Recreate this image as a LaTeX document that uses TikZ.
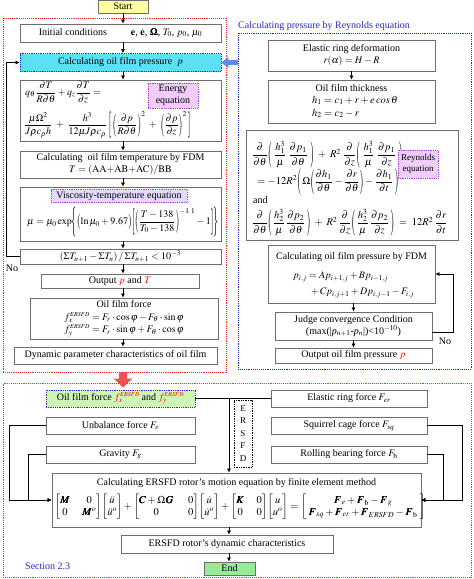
\documentclass[tikz,border=0pt]{standalone}
\usepackage{amsmath}
\usepackage{graphicx}
\usepackage{mathptmx}
\usepackage{bm}
\usepackage[no-math]{fontspec}
\setmainfont{Liberation Serif}
\usetikzlibrary{arrows.meta,calc}
\newcommand{\sdl}[2]{\mathopen{\vcenter{\hbox{\scalebox{1}[#1]{$#2$}}}}}
\newcommand{\sdr}[2]{\mathclose{\vcenter{\hbox{\scalebox{1}[#1]{$#2$}}}}}
\definecolor{boxgray}{RGB}{110,110,110}
\definecolor{cyanfill}{RGB}{90,225,245}
\definecolor{framered}{RGB}{240,40,40}
\definecolor{frameblue}{RGB}{40,40,220}
\definecolor{framegreen}{RGB}{40,160,40}
\definecolor{labelfill}{RGB}{240,205,250}
\definecolor{labelborder}{RGB}{170,60,220}
\definecolor{viscfill}{RGB}{228,218,255}
\definecolor{startfill}{RGB}{255,255,160}
\definecolor{endfill}{RGB}{150,235,150}
\definecolor{oilfill}{RGB}{205,245,180}
\definecolor{bigred}{RGB}{240,80,80}
\definecolor{bigblue}{RGB}{90,140,235}
\definecolor{titleblue}{RGB}{40,40,200}
\tikzset{
  box/.style={draw=boxgray, line width=0.8pt, inner sep=1pt, align=center},
  frame/.style={densely dotted, line width=0.9pt},
  arr/.style={-{Latex[length=4pt,width=4pt]}, line width=0.6pt},
  eqlabel/.style={draw=labelborder, densely dotted, fill=labelfill, line width=0.8pt, align=center, inner sep=0pt},
  txt/.style={inner sep=0pt},
  eq/.style={inner sep=0pt, font=\fontsize{10}{12}\selectfont},
  eqr/.style={inner sep=0pt, font=\fontsize{10.5}{12}\selectfont},
}
\begin{document}
\begin{tikzpicture}[x=1pt,y=-1pt,font=\fontsize{10}{12}\selectfont]
\useasboundingbox (0,0) rectangle (474,579);
% frames
\node[frame, draw=framered, minimum width=223pt, minimum height=354pt] (redf) at (114.5,195) {};
\node[frame, draw=frameblue, minimum width=233pt, minimum height=336pt] (bluef) at (354.5,201) {};
\node[frame, draw=framegreen, minimum width=468pt, minimum height=194pt] (greenf) at (237,480) {};
\node[txt, text=titleblue, anchor=south west] (btitle) at (238,31) {Calculating pressure by Reynolds equation};
\node[txt, text=titleblue, anchor=west] (sec) at (25,566) {Section 2.3};

% left column
\node[box, fill=startfill, minimum width=50pt, minimum height=13pt] (start) at (123,6.5) {Start};
\node[box, minimum width=201pt, minimum height=18pt] (init) at (120.5,33) {Initial conditions\hspace{2.4em}$\mathbf{e}$, $\dot{\mathbf{e}}$, $\bm\Omega$, $T_0$, $p_0$, $\mu_0$};
\node[box, draw=frameblue, densely dotted, fill=cyanfill, minimum width=201pt, minimum height=18pt] (press) at (120.5,62.5) {Calculating oil film pressure\ \ $p$};
\node[box, minimum width=201pt, minimum height=61pt] (energy) at (120.5,110.5) {};
\node[eq, anchor=west] (en1) at (25,92) {$q_\theta\dfrac{\partial T}{R\partial\theta}+q_z\dfrac{\partial T}{\partial z}=$};
\node[eq, anchor=west] (en2) at (24,125) {$\dfrac{\mu\Omega^2}{J\rho c_\rho h}\;+\;\dfrac{h^3}{12\mu J\rho c_\rho}\,\sdl{2.6}{[}\,\sdl{2.3}{(}\dfrac{\partial p}{R\partial\theta}\sdr{2.3}{)}^{2}\;+\;\sdl{2.3}{(}\dfrac{\partial p}{\partial z}\sdr{2.3}{)}^{2}\,\sdr{2.6}{]}$};
\node[eqlabel, minimum width=50pt, minimum height=25pt] (enlab) at (173,95.5) {Energy\\equation};
\node[box, minimum width=201pt, minimum height=27pt] (temp) at (120.5,164.5) {Calculating\ \ oil film temperature by FDM\\$T=(\mathrm{AA{+}AB{+}AC})/\mathrm{BB}$};
\node[box, minimum width=201pt, minimum height=54pt] (visc) at (120.5,214) {};
\node[eqlabel, fill=viscfill, minimum width=136pt, minimum height=13pt] (visclab) at (119,196) {Viscosity-temperature equation};
\node[eq, anchor=west] (visceq) at (27,222) {$\mu=\mu_0\exp\sdl{3}{\{}\sdl{1.5}{(}\ln\mu_0+9.67\sdr{1.5}{)}\sdl{2.6}{[}\sdl{2.3}{(}\dfrac{T-138}{T_0-138}\sdr{2.3}{)}^{-1.1}-1\sdr{2.6}{]}\sdr{3}{\}}$};
\node[box, minimum width=201pt, minimum height=15pt] (conv) at (120.5,256.5) {$(\Sigma T_{n+1}-\Sigma T_n)\,/\,\Sigma T_{n+1}<10^{-3}$};
\node[txt] (no1) at (12,268) {No};
\node[box, minimum width=158pt, minimum height=14pt] (outpt) at (120,281) {Output \textcolor{red}{$p$} and \textcolor{red}{$T$}};
\node[box, minimum width=188pt, minimum height=41pt, font=\fontsize{10}{12.5}\selectfont] (force) at (124,318.5) {Oil film force\\$f_x^{\scriptscriptstyle ERSFD}=F_r\cdot\cos\varphi-F_\theta\cdot\sin\varphi$\\$f_y^{\scriptscriptstyle ERSFD}=F_r\cdot\sin\varphi+F_\theta\cdot\cos\varphi$};
\node[box, minimum width=203pt, minimum height=17pt] (dyn) at (115.5,355.5) {Dynamic parameter characteristics of oil film};

\draw[arr] (start.south) -- (start.south |- init.north);
\draw[arr] (init.south -| start.south) -- (press.north -| start.south);
\draw[arr] (press.south -| start.south) -- (energy.north -| start.south);
\draw[arr] (energy.south -| start.south) -- (temp.north -| start.south);
\draw[arr] (temp.south -| start.south) -- (visc.north -| start.south);
\draw[arr] (visc.south -| start.south) -- (conv.north -| start.south);
\draw[arr] (conv.south -| start.south) -- (outpt.north -| start.south);
\draw[arr] (outpt.south -| start.south) -- (force.north -| start.south);
\draw[arr] (force.south -| start.south) -- (dyn.north -| start.south);
\draw[arr] (conv.west) -- ++(-13,0) |- (press.west);

% right column
\node[box, minimum width=167pt, minimum height=31pt] (elastic) at (351.5,55.5) {Elastic ring deformation\\$r(\alpha)=H-R$};
\node[box, minimum width=167pt, minimum height=43pt] (thick) at (351.5,101.5) {};
\node[txt] (thtitle) at (351.5,88) {Oil film thickness};
\node[eq, anchor=west, align=left, font=\fontsize{10.5}{13}\selectfont] (theq) at (312,107) {$h_1=c_1+r+e\,\mathit{cos}\,\theta$\\$h_2=c_2-r$};
\node[box, minimum width=212pt, minimum height=110pt] (reyn) at (352,185) {};
\node[eqr, anchor=west] (re1) at (252,155) {$\dfrac{\partial}{\partial\theta}\sdl{2.5}{(}\;\dfrac{h_1^3}{\mu}\;\dfrac{\partial p_1}{\partial\theta}\;\sdr{2.5}{)}\;+\;R^2\;\dfrac{\partial}{\partial z}\sdl{2.5}{(}\;\dfrac{h_1^3}{\mu}\;\dfrac{\partial p_1}{\partial z}\;\sdr{2.5}{)}$};
\node[eqr, anchor=west] (re2) at (257,182) {$=-12R^2\sdl{2.5}{(}\,\Omega\sdl{2.3}{(}\dfrac{\partial h_1}{\partial\theta}-\dfrac{\partial r}{\partial\theta}\sdr{2.3}{)}-\dfrac{\partial h_1}{\partial t}\,\sdr{2.5}{)}$};
\node[eq, anchor=west] (reand) at (253,200) {and};
\node[eqr, anchor=west] (re3) at (252,223) {$\dfrac{\partial}{\partial\theta}\sdl{2.5}{(}\,\dfrac{h_2^3}{\mu}\,\dfrac{\partial p_2}{\partial\theta}\,\sdr{2.5}{)}\;+\;R^2\,\dfrac{\partial}{\partial z}\sdl{2.5}{(}\,\dfrac{h_2^3}{\mu}\,\dfrac{\partial p_2}{\partial z}\,\sdr{2.5}{)}\;=\;12R^2\,\dfrac{\partial r}{\partial t}$};
\node[eqlabel, minimum width=40pt, minimum height=28pt, font=\fontsize{9}{11}\selectfont] (relab) at (418,164) {Reynolds\\equation};
\node[box, minimum width=167pt, minimum height=58pt] (fdm) at (351.5,274) {};
\node[txt] (fdmtitle) at (351.5,257) {Calculating oil film pressure by FDM};
\node[eq, anchor=west] (fdm1) at (293,277) {$p_{i,j}=Ap_{i+1,j}+Bp_{i-1,j}$};
\node[eq, anchor=west] (fdm2) at (311,293) {$+\,Cp_{i,j+1}+Dp_{i,j-1}-F_{i,j}$};
\node[box, minimum width=157pt, minimum height=28pt] (judge) at (353.5,326) {Judge convergence Condition\\(max(|\textit{p}$_{n+1}$-\textit{p}$_n$|)<10$^{-10}$)};
\node[box, minimum width=157pt, minimum height=15pt] (outp) at (353.5,355.5) {Output oil film pressure \textcolor{red}{$p$}};
\node[txt] (no2) at (445,341) {No};

\draw[arr] (elastic.south) -- (thick.north);
\draw[arr] (judge.north |- fdm.south) -- (judge.north);
\draw[arr] (judge.south) -- (outp.north);
\draw[arr] ($(judge.east)+(0,6)$) -- ++(21,0) |- (fdm.east);

% connecting arrows between frames
\draw[bigred, line width=8pt, -{Triangle[length=9pt,width=18pt]}] (redf.south -| start.south) -- ($(greenf.north -| start.south)+(0,5)$);
\draw[bigblue, line width=5pt, -{Triangle[length=7pt,width=11pt]}] (bluef.west |- press.east) -- (press.east);

% green section
\node[box, draw=frameblue, densely dotted, fill=oilfill, minimum width=149pt, minimum height=17pt] (oilf) at (120.5,398.5) {Oil film force \textcolor{red}{$f_x^{\scriptscriptstyle ERSFD}$}\,and \textcolor{red}{$f_y^{\scriptscriptstyle ERSFD}$}};
\node[box, minimum width=156pt, minimum height=17pt] (elring) at (349,398.5) {Elastic ring force $F_{er}$};
\node[box, minimum width=149pt, minimum height=17pt] (unbal) at (120.5,425.5) {Unbalance force $F_e$};
\node[box, minimum width=149pt, minimum height=17pt] (grav) at (120.5,454.5) {Gravity $F_g$};
\node[box, minimum width=156pt, minimum height=17pt] (squir) at (349,425.5) {Squirrel cage force $F_{sq}$};
\node[box, minimum width=156pt, minimum height=17pt] (roll) at (349,454.5) {Rolling bearing force $F_\mathrm{b}$};
\node[draw=black, densely dotted, line width=0.7pt, minimum width=18pt, minimum height=67pt, align=center, inner sep=0pt, font=\fontsize{9}{12.5}\selectfont] (ersfd) at (243,433.5) {E\\R\\S\\F\\D};
\node[box, minimum width=369pt, minimum height=54pt] (calc) at (236.5,500) {};
\node[txt] (calctitle) at (236.5,483) {Calculating ERSFD rotor's motion equation by finite element method};
\node[eq, font=\fontsize{10.5}{12}\selectfont] (calceq) at (240,507) {$\begin{bmatrix}\bm M&\;0\\0&\;\bm M^{o}\end{bmatrix}\!\begin{bmatrix}\ddot u\\\ddot u^{o}\end{bmatrix}+\begin{bmatrix}\bm C+\Omega\bm G&\;\;0\\0&\;\;0\end{bmatrix}\!\begin{bmatrix}\dot u\\\dot u^{o}\end{bmatrix}+\begin{bmatrix}\bm K&\;0\\0&\;0\end{bmatrix}\!\begin{bmatrix}u\\u^{o}\end{bmatrix}=\begin{bmatrix}\;\bm F_e+\bm F_\mathrm{b}-\bm F_g\;\\\;\bm F_{sq}+\bm F_{er}+\bm F_{ERSFD}-\bm F_\mathrm{b}\;\end{bmatrix}$};
\node[box, minimum width=212pt, minimum height=18pt] (dynch) at (227,544) {ERSFD rotor's dynamic characteristics};
\node[box, fill=endfill, minimum width=51pt, minimum height=13pt] (endn) at (229.5,568.5) {End};

\coordinate (j1) at (229,398.5);
\draw (oilf.east) -- (elring.west);
\draw[arr] (j1) -- (j1 |- calc.north);
\draw[arr] (unbal.west) -- ++(-36,0) |- (calc.west);
\draw[arr] (grav.west) -- ++(-17,0) |- (calc.west);
\draw[arr] (squir.east) -- ++(35,0) |- (calc.east);
\draw[arr] (roll.east) -- ++(16,0) |- (calc.east);
\draw[arr] (calc.south -| j1) -- (dynch.north -| j1);
\draw[arr] (dynch.south -| j1) -- (endn.north -| j1);
\end{tikzpicture}
\end{document}
